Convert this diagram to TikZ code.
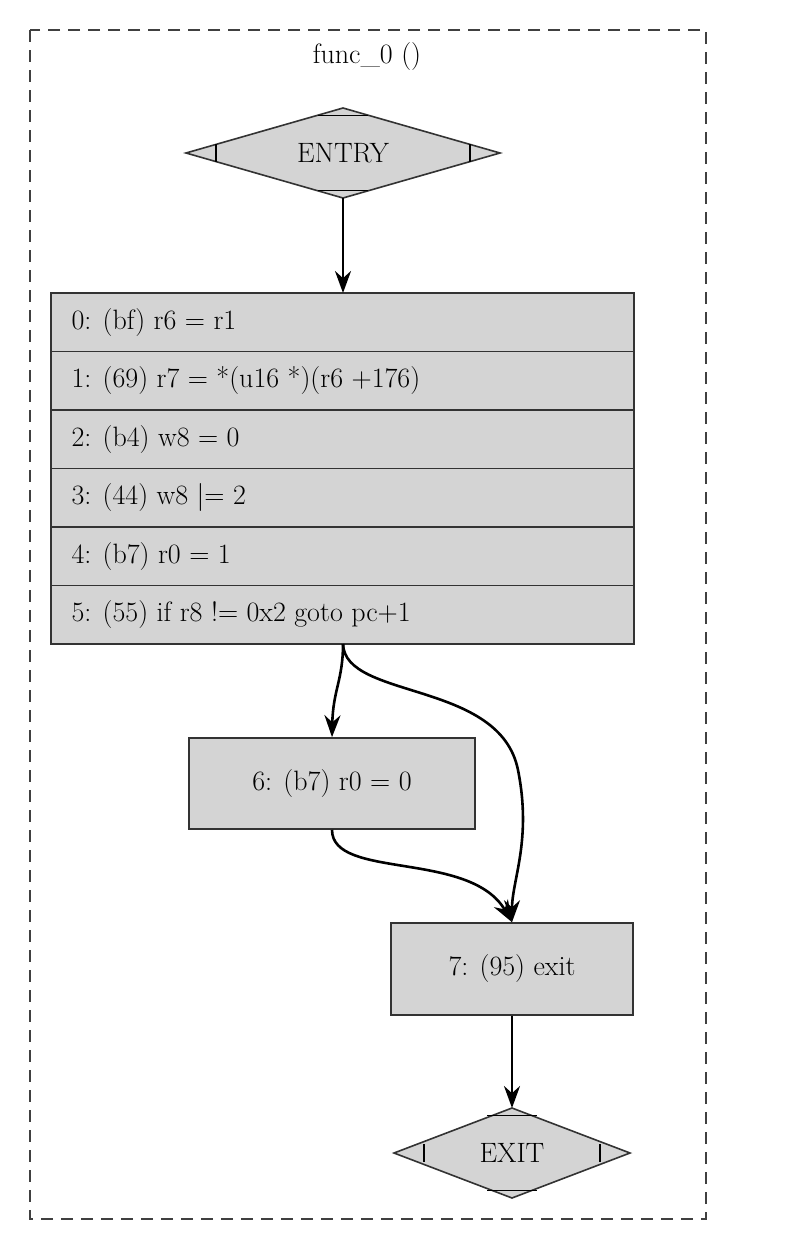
\documentclass[tikz,border=0pt]{standalone}
\usetikzlibrary{arrows.meta}
\begin{document}
\begin{tikzpicture}[x=1pt,y=-1pt,
  txt/.style={font=\fontsize{28}{32}\selectfont},
  box/.style={draw=black!80,line width=1.6pt,fill=black!17},
  edge/.style={line width=2.6pt,-{Stealth[length=22pt,width=16pt]}}]
\useasboundingbox (0,0) rectangle (800,1250);
\draw[black!75,line width=1.5pt,dash pattern=on 12pt off 8pt] (30,30) rectangle (706,1219);
\node[txt] (title) at (367,57) {func\_0 ()};
% ENTRY diamond
\newcommand{\mdiam}[4]{% name cx cy hw hh
  \coordinate (#1-c) at (#2,#3);
  \draw[box] (#2-#4,#3) -- (#2,#3-45) -- (#2+#4,#3) -- (#2,#3+45) -- cycle;
  \draw[line width=1.4pt] (#2-#4+30,#3-8.6) -- (#2-#4+30,#3+8.6)
     (#2+#4-30,#3-8.6) -- (#2+#4-30,#3+8.6)
     (#2-25,#3-37.5) -- (#2+25,#3-37.5)
     (#2-25,#3+37.5) -- (#2+25,#3+37.5);}
\mdiam{entry}{343}{153}{157}
\node[txt] (entrylbl) at (343,153) {ENTRY};
\coordinate (entrybot) at (343,198);
% main block
\foreach \i/\t [count=\k from 0] in {0/{0: (bf) r6 = r1},1/{1: (69) r7 = *(u16 *)(r6 +176)},2/{2: (b4) w8 = 0},3/{3: (44) w8 \textbar= 2},4/{4: (b7) r0 = 1},5/{5: (55) if r8 != 0x2 goto pc+1}}{
  \draw[box] (51,293+58.5*\k) rectangle (634,293+58.5*\k+58.5);
  \node[txt,anchor=west] (r\i) at (68,293+58.5*\k+29.25) {\t};
}
\coordinate (blocktop) at (343,293);
\coordinate (blockbot) at (343,644);
\node[box,txt,minimum width=286pt,minimum height=91pt,inner sep=0pt] (b6) at (332,783.5) {6: (b7) r0 = 0};
\node[box,txt,minimum width=242pt,minimum height=92pt,inner sep=0pt] (b7) at (512,969) {7: (95) exit};
\mdiam{exit}{512}{1153}{118}
\node[txt] (exitlbl) at (512,1153) {EXIT};
\coordinate (exittop) at (512,1108);
\draw[edge] (entrybot) -- (blocktop);
\draw[edge] (blockbot) .. controls (343,680) and (333,690) .. (b6.north);
\draw[edge] (blockbot) .. controls (345,700) and (500,680) .. (518,770) .. controls (532,840) and (512,880) .. (b7.north);
\draw[edge] (b6.south) .. controls (332,880) and (470,850) .. (b7.north);
\draw[edge] (b7.south) -- (exittop);
\end{tikzpicture}
\end{document}
